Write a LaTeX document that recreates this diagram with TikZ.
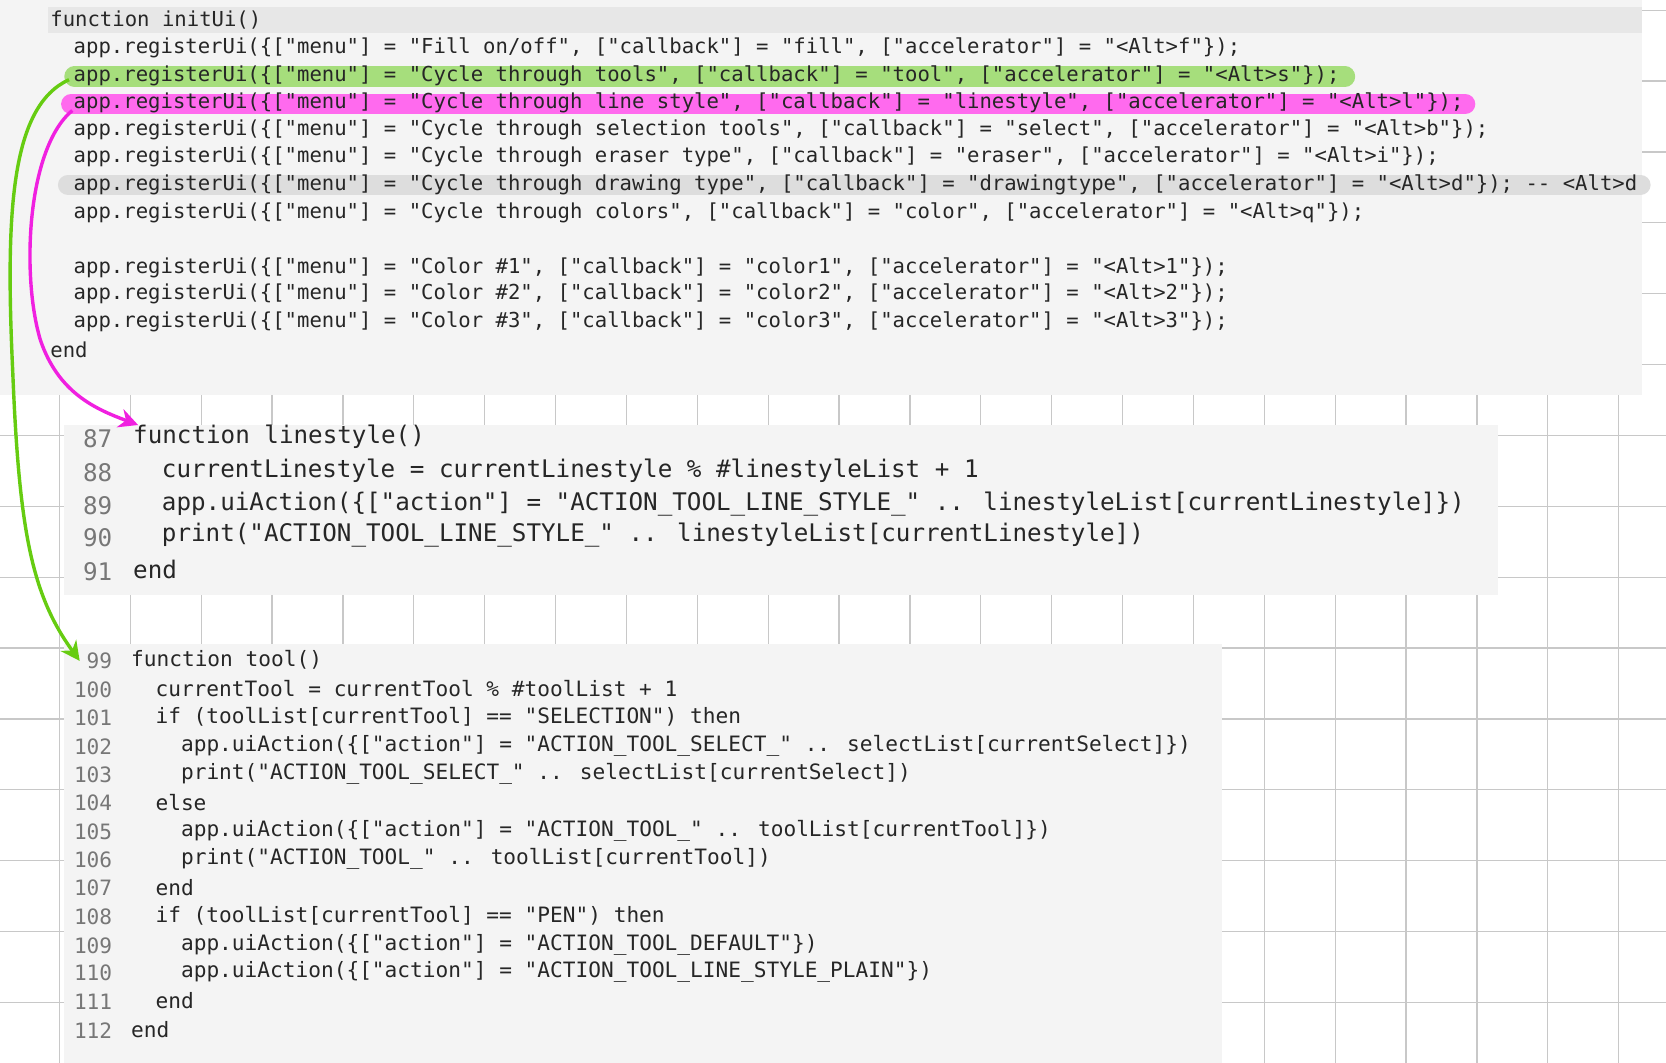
\documentclass[tikz,border=0pt]{standalone}
\usepackage{fontspec}
\usetikzlibrary{arrows.meta}
\newfontfamily\codefont{DejaVu Sans Mono}
\definecolor{gridc}{HTML}{C8C8C8}
\definecolor{panel}{HTML}{F4F4F4}
\definecolor{hlgreen}{HTML}{A6DE7C}
\definecolor{hlpink}{HTML}{FF6AEE}
\definecolor{hlgray}{HTML}{DDDDDD}
\definecolor{arrgreen}{HTML}{66CC11}
\definecolor{arrpink}{HTML}{F020E0}
\definecolor{numc}{HTML}{777777}
\tikzset{
 ta/.style={anchor=west,inner sep=0,font=\codefont\fontsize{9.7}{12}\selectfont,text=black!85},
 tb/.style={anchor=west,inner sep=0,font=\codefont\fontsize{11.4}{13}\selectfont,text=black!85},
 tc/.style={anchor=west,inner sep=0,font=\codefont\fontsize{9.95}{12}\selectfont,text=black!85},
 nb/.style={anchor=east,inner sep=0,font=\codefont\fontsize{11.4}{13}\selectfont,text=numc},
 nc/.style={anchor=east,inner sep=0,font=\codefont\fontsize{9.95}{12}\selectfont,text=numc},
 hl/.style={line width=9.5,line cap=round},
 arr/.style={line width=1.6,-{Stealth[length=9pt,width=9pt]}}
}
\begin{document}
\begin{tikzpicture}[x=0.5pt,y=-0.5pt]
\useasboundingbox (0,0) rectangle (1568,1000);
\fill[white] (0,0) rectangle (1568,1000);
\foreach \i in {0,...,23}{\draw[gridc,line width=0.6] (56+66.7*\i,0) -- (56+66.7*\i,1000);}
\foreach \j in {0,...,15}{\draw[gridc,line width=0.6] (0,9.6+66.7*\j) -- (1568,9.6+66.7*\j);}
\fill[panel] (0,0) rectangle (1545,372);
\fill[panel] (60,400) rectangle (1410,560);
\fill[panel] (60,606) rectangle (1150,1000);
% highlights
\fill[hlgray!70] (45,7) rectangle (1545,31);
\draw[hl,hlgreen] (70,72) -- (1266,72);
\draw[hl,hlpink] (67,98) -- (1379,98);
\draw[hl,hlgray] (64,174) -- (1544,174);
% top code
\node[ta] (t1) at (47,19) {function initUi()};
\node[ta] (t2) at (69,45) {app.registerUi(\{["menu"] = "Fill on/off", ["callback"] = "fill", ["accelerator"] = "<Alt>f"\});};
\node[ta] (t3) at (69,71) {app.registerUi(\{["menu"] = "Cycle through tools", ["callback"] = "tool", ["accelerator"] = "<Alt>s"\});};
\node[ta] (t4) at (69,97) {app.registerUi(\{["menu"] = "Cycle through line style", ["callback"] = "linestyle", ["accelerator"] = "<Alt>l"\});};
\node[ta] (t5) at (69,122) {app.registerUi(\{["menu"] = "Cycle through selection tools", ["callback"] = "select", ["accelerator"] = "<Alt>b"\});};
\node[ta] (t6) at (69,148) {app.registerUi(\{["menu"] = "Cycle through eraser type", ["callback"] = "eraser", ["accelerator"] = "<Alt>i"\});};
\node[ta] (t7) at (69,174) {app.registerUi(\{["menu"] = "Cycle through drawing type", ["callback"] = "drawingtype", ["accelerator"] = "<Alt>d"\}); -- <Alt>d};
\node[ta] (t8) at (69,200) {app.registerUi(\{["menu"] = "Cycle through colors", ["callback"] = "color", ["accelerator"] = "<Alt>q"\});};
\node[ta] (t9) at (69,252) {app.registerUi(\{["menu"] = "Color \#1", ["callback"] = "color1", ["accelerator"] = "<Alt>1"\});};
\node[ta] (t10) at (69,277) {app.registerUi(\{["menu"] = "Color \#2", ["callback"] = "color2", ["accelerator"] = "<Alt>2"\});};
\node[ta] (t11) at (69,303) {app.registerUi(\{["menu"] = "Color \#3", ["callback"] = "color3", ["accelerator"] = "<Alt>3"\});};
\node[ta] (t12) at (47,329) {end};
% panel 2
\node[nb] at (106,413) {87}; \node[tb] (b1) at (125,411) {function linestyle()};
\node[nb] at (106,445) {88}; \node[tb] (b2) at (152,443) {currentLinestyle = currentLinestyle \% \#linestyleList + 1};
\node[nb] at (106,476) {89}; \node[tb] (b3) at (152,474) {app.uiAction(\{["action"] = "ACTION\_TOOL\_LINE\_STYLE\_" .. linestyleList[currentLinestyle]\})};
\node[nb] at (106,506) {90}; \node[tb] (b4) at (152,504) {print("ACTION\_TOOL\_LINE\_STYLE\_" .. linestyleList[currentLinestyle])};
\node[nb] at (106,538) {91}; \node[tb] (b5) at (125,536) {end};
% panel 3
\foreach \n/\y/\x/\t in {
 99/621/123/{function tool()},
 100/648/146/{currentTool = currentTool \% \#toolList + 1},
 101/675/146/{if (toolList[currentTool] == "SELECTION") then},
 102/702/170/{app.uiAction(\{["action"] = "ACTION\_TOOL\_SELECT\_" .. selectList[currentSelect]\})},
 103/728/170/{print("ACTION\_TOOL\_SELECT\_" .. selectList[currentSelect])},
 104/755/146/{else},
 105/782/170/{app.uiAction(\{["action"] = "ACTION\_TOOL\_" .. toolList[currentTool]\})},
 106/808/170/{print("ACTION\_TOOL\_" .. toolList[currentTool])},
 107/835/146/{end},
 108/862/146/{if (toolList[currentTool] == "PEN") then},
 109/889/170/{app.uiAction(\{["action"] = "ACTION\_TOOL\_DEFAULT"\})},
 110/915/170/{app.uiAction(\{["action"] = "ACTION\_TOOL\_LINE\_STYLE\_PLAIN"\})},
 111/942/146/{end},
 112/969/123/{end}}{
 \node[nc] at (106,\y+1) {\n};
 \node[tc] (c\n) at (\x,\y) {\t};
}
% arrows
\coordinate (gs) at (65,75);
\coordinate (ps) at (68,104);
\draw[arr,arrgreen] (gs) .. controls (10,100) and (5,200) .. (12,350) .. controls (18,500) and (30,560) .. (75,622);
\draw[arr,arrpink] (ps) .. controls (25,140) and (20,260) .. (38,320) .. controls (55,370) and (90,385) .. (130,400);
\end{tikzpicture}
\end{document}
